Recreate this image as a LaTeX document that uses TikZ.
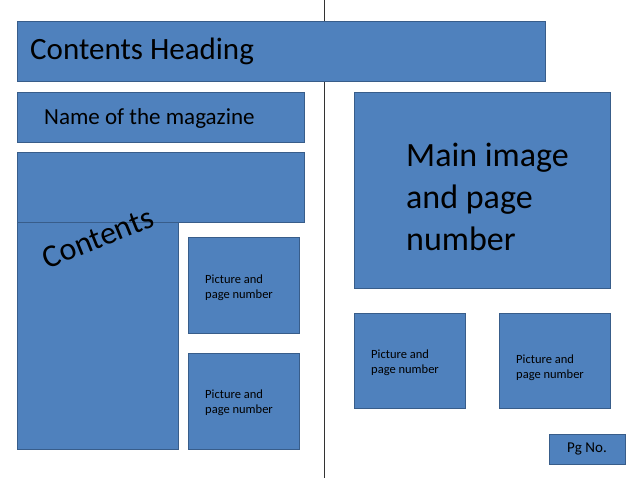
\documentclass[tikz,border=0pt]{standalone}
\usepackage{fontspec}
\setmainfont{Carlito}
\definecolor{boxfill}{HTML}{4F81BD}
\definecolor{boxline}{HTML}{385D8A}
\begin{document}
\begin{tikzpicture}[x=1pt,y=-1pt,
  blk/.style={fill=boxfill,draw=boxline,line width=1pt},
  lbl/.style={anchor=west,inner sep=0pt,text=black,align=left},
  small/.style={lbl,font=\fontsize{12.5}{15}\selectfont}]
\useasboundingbox[fill=white] (0,0) rectangle (638,478);
\coordinate (vt) at (324,0); \coordinate (vb) at (324,478);
\draw[line width=1pt,black!80] (vt) -- (vb);
\draw[blk] (17,22) rectangle (545,82);
\node[lbl,font=\fontsize{31}{36}\selectfont] (h) at (30,51) {Contents Heading};
\draw[blk] (17,93) rectangle (304,143);
\node[lbl,font=\fontsize{23}{27}\selectfont] (n) at (44,118) {Name of the magazine};
\draw[blk] (17,153) rectangle (304,223);
\draw[blk] (17,223) rectangle (178,450);
\node[font=\fontsize{32}{36}\selectfont,rotate=22,inner sep=0pt] (c) at (98,238) {Contents};
\draw[blk] (188,238) rectangle (299,334);
\node[small] (p1) at (205,288) {Picture and\\page number};
\draw[blk] (188,354) rectangle (299,450);
\node[small] (p2) at (205,403) {Picture and\\page number};
\draw[blk] (354,93) rectangle (610,289);
\node[lbl,font=\fontsize{34}{42}\selectfont] (m) at (406,197) {Main image\\and page\\number};
\draw[blk] (354,314) rectangle (465,409);
\node[small] (p3) at (371,363) {Picture and\\page number};
\draw[blk] (499,314) rectangle (610,409);
\node[small] (p4) at (516,368) {Picture and\\page number};
\draw[blk] (549,435) rectangle (625,465);
\node[font=\fontsize{15}{18}\selectfont,inner sep=0pt] (pg) at (587,449) {Pg No.};
\end{tikzpicture}
\end{document}
